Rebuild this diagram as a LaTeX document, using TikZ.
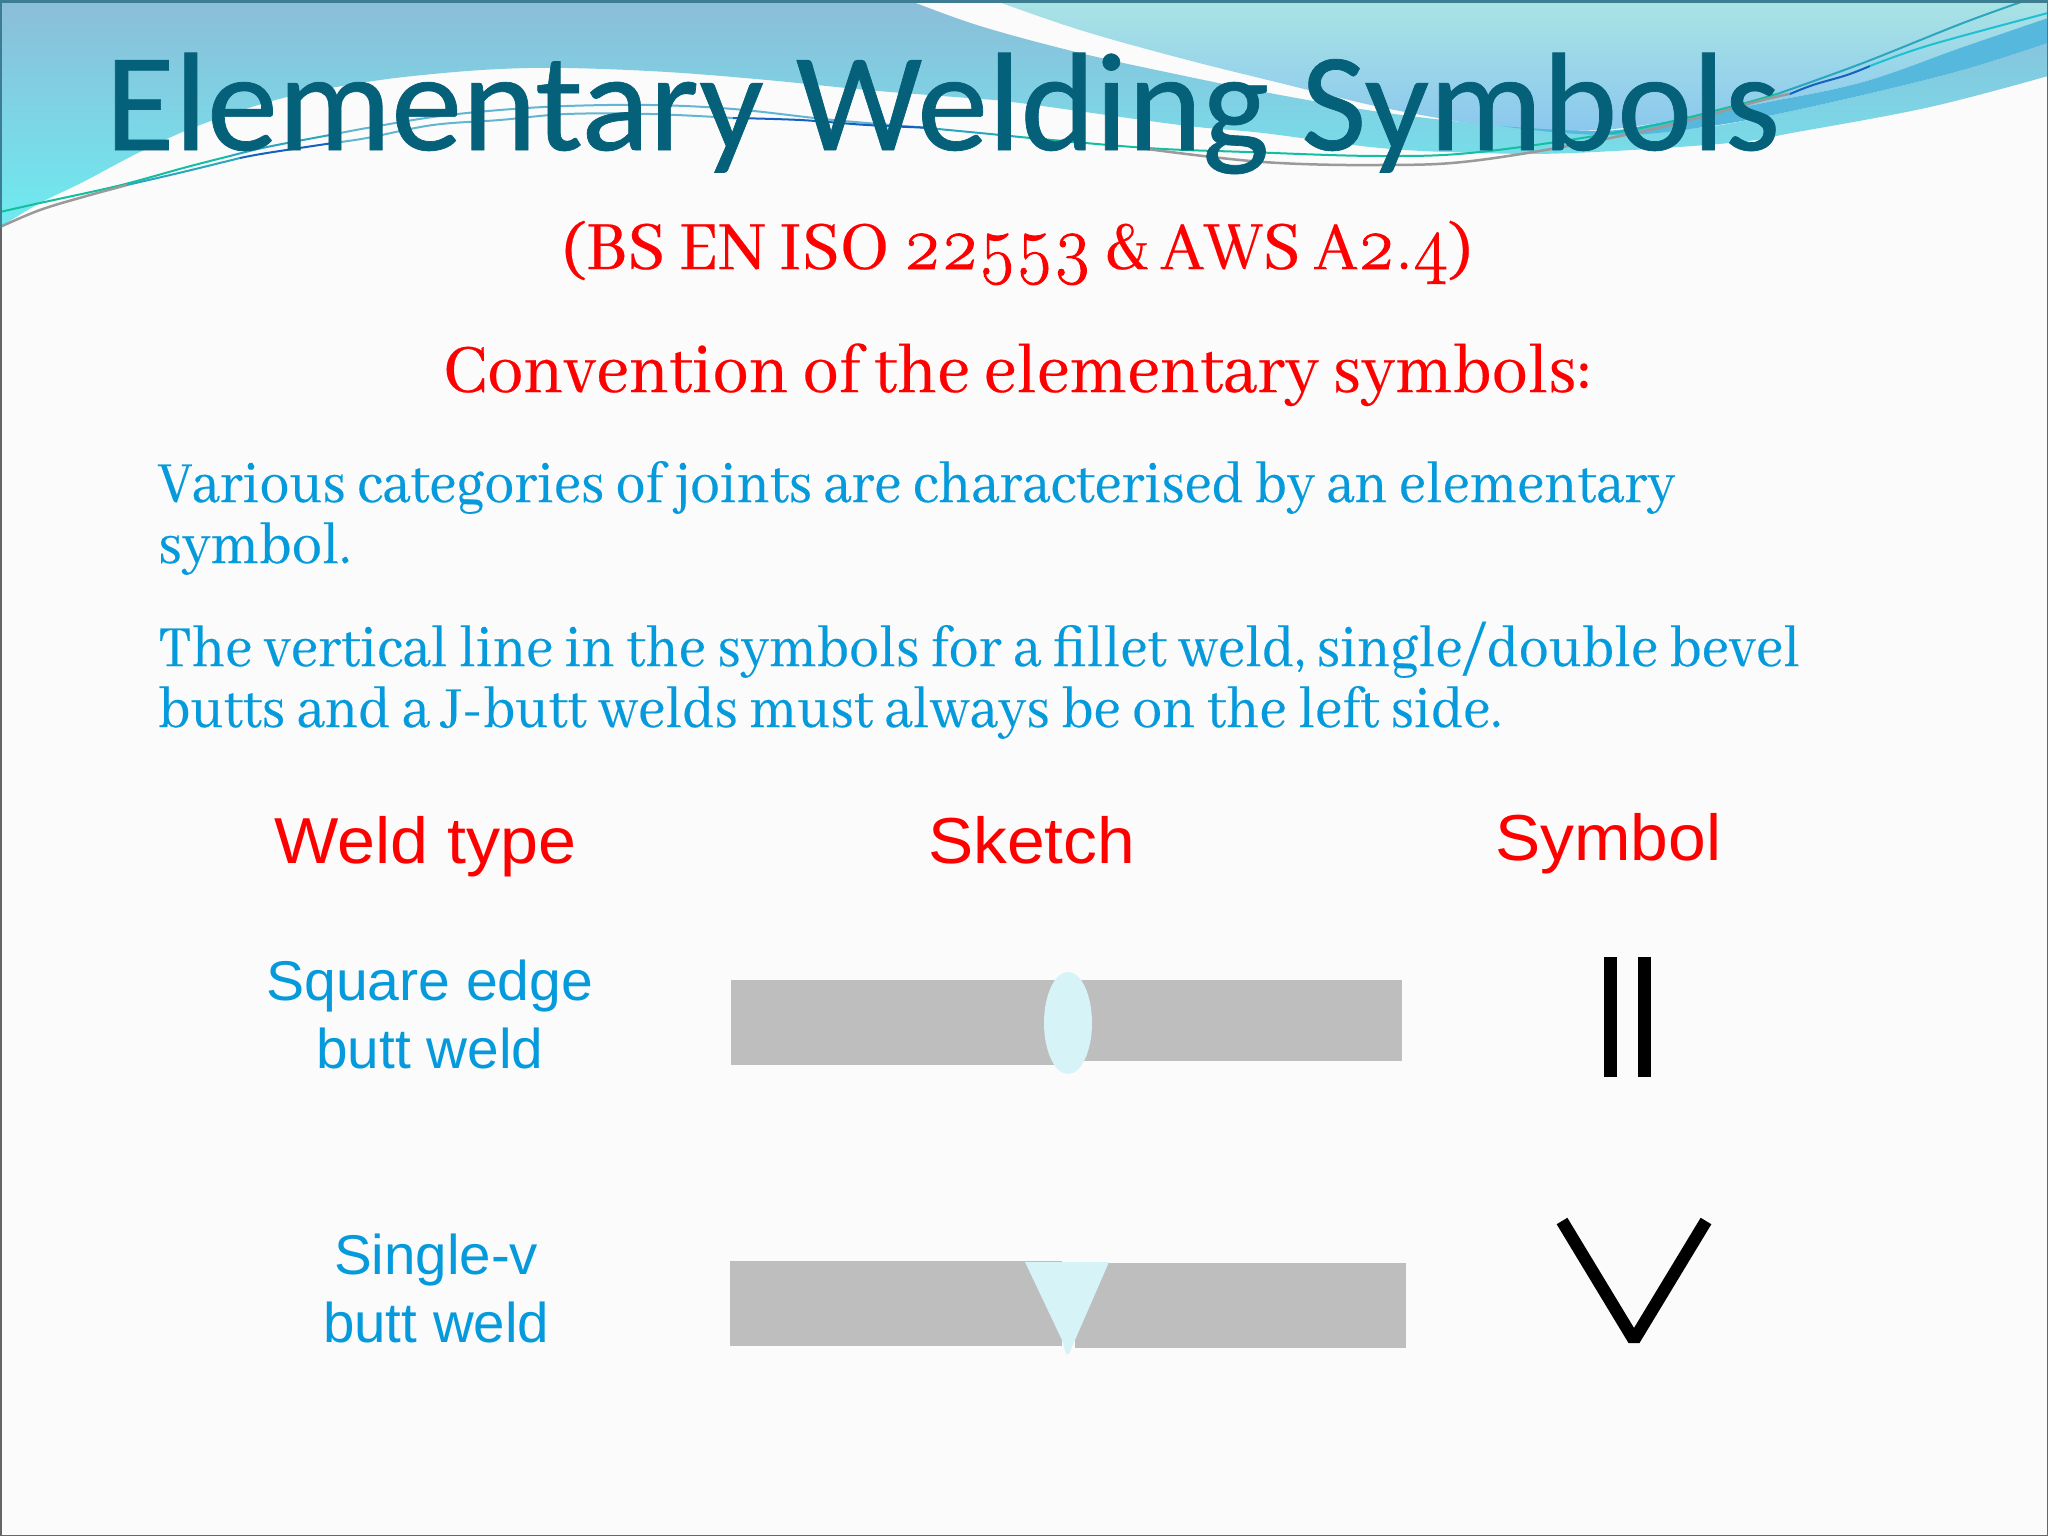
\documentclass[tikz,border=0pt]{standalone}
\usepackage{fontspec}
\usepackage{graphicx}
\setmainfont{Abhaya Libre}
\newfontfamily\serifheavy[RawFeature={embolden=0.3}]{Abhaya Libre}
\newfontfamily\osf[Numbers=OldStyle,RawFeature={embolden=1.2}]{Latin Modern Roman}
\newfontfamily\titlefont[RawFeature={embolden=0.5}]{Carlito}
\newfontfamily\labelfont{Liberation Sans}
\newcommand{\fitw}[2]{\resizebox{#1}{\height}{#2}}
\definecolor{titleC}{HTML}{05607A}
\definecolor{bodyC}{HTML}{059ADB}
\definecolor{pageC}{HTML}{FBFBFB}
\definecolor{plateC}{HTML}{BEBEBE}
\definecolor{beadC}{HTML}{D6F3F8}
\definecolor{bandDark}{HTML}{55B8DC}
\definecolor{greenL}{HTML}{12BFA0}
\definecolor{paleL}{HTML}{62B6D2}
\definecolor{deepL}{HTML}{1560C0}
\definecolor{greyL}{HTML}{9A9A9A}
\definecolor{tealL}{HTML}{2AA6BE}
\definecolor{paleTop}{HTML}{AAE3E4}
\definecolor{paleLow}{HTML}{8AC8EE}
\definecolor{mainTop}{HTML}{8CBDD9}
\definecolor{mainMid}{HTML}{7AD3E5}
\definecolor{mainLow}{HTML}{6EEBF0}
\definecolor{frameT}{HTML}{3C7D91}
\tikzset{
  x=1pt,y=-1pt,
  titletxt/.style={font=\titlefont\fontsize{140pt}{140pt}\selectfont,text=titleC,anchor=base west,inner sep=0pt},
  headtxt/.style={font=\serifheavy\fontsize{76pt}{76pt}\selectfont,text=red,anchor=base west,inner sep=0pt},
  bodytxt/.style={font=\serifheavy\fontsize{64pt}{64pt}\selectfont,text=bodyC,anchor=base west,inner sep=0pt},
  colhead/.style={font=\labelfont\fontsize{65pt}{65pt}\selectfont,text=red,anchor=base west,inner sep=0pt},
  weldtxt/.style={font=\labelfont\fontsize{56pt}{56pt}\selectfont,text=bodyC,anchor=base west,inner sep=0pt},
  plate/.style={fill=plateC,draw=none},
  bead/.style={fill=beadC,draw=none},
  symline/.style={draw=black,line width=12.5pt,line cap=butt,line join=bevel},
  strandA/.style={line width=2pt},
  strandB/.style={line width=2.5pt},
  wavy/.style={smooth,tension=0.6},
}
\begin{document}
\begin{tikzpicture}
\useasboundingbox (0,0) rectangle (2048,1536);
\fill[pageC] (0,0) rectangle (2048,1536);
% pale wave, upper right
\shade[top color=paleTop,bottom color=paleLow]
  (993,0) -- plot[wavy] coordinates {(993,0) (1080,30) (1180,58) (1280,83) (1380,107) (1480,125) (1530,130) (1600,130) (1663,122) (1763,103) (1863,82) (1963,47) (2048,18)}
  -- (2048,0) -- cycle;
% main wave
\shade[top color=mainTop,middle color=mainMid,bottom color=mainLow]
  (0,0) -- (908,0)
  -- plot[wavy] coordinates {(908,0) (980,26) (1080,53) (1180,75) (1280,95) (1380,112) (1480,124) (1530,128) (1600,133) (1697,128) (1763,117) (1863,95) (1963,70) (2048,43)}
  -- (2048,76)
  -- plot[wavy] coordinates {(2048,76) (1930,107) (1797,132) (1730,143) (1573,153) (1480,153) (1380,148) (1263,133) (1180,125) (1020,103) (967,98) (867,90) (767,80) (667,72) (567,68) (500,69) (433,74) (367,82) (283,98) (200,125) (140,152) (83,182) (40,203) (0,227)}
  -- cycle;
% darker band
\fill[bandDark]
  (1500,126) -- plot[wavy] coordinates {(1500,126) (1600,131) (1663,122) (1763,103) (1863,82) (1963,47) (2048,18)}
  -- (2048,43)
  -- plot[wavy] coordinates {(2048,43) (1963,70) (1863,95) (1763,117) (1697,128) (1630,135) (1563,133) (1500,126)} -- cycle;
% thin strands
\draw[greenL,strandA] plot[wavy] coordinates {(0,212) (40,203) (100,190) (133,182) (187,167) (230,156)};
\draw[tealL,strandA] plot[wavy] coordinates {(230,156) (267,147) (330,135)};
\draw[paleL,strandA] plot[wavy] coordinates {(330,135) (367,128) (433,117) (500,110) (567,106) (650,105) (733,109) (833,120) (917,127)};
\draw[tealL,strandA] plot[wavy] coordinates {(917,127) (980,133) (1020,137)};
\draw[greenL,strandA] plot[wavy] coordinates {(1020,137) (1147,148) (1247,152) (1380,156) (1480,152) (1630,130) (1730,107) (1780,93)};
\draw[tealL,strandA] plot[wavy] coordinates {(1780,93) (1863,63) (1963,23) (2027,0)};
\draw[greyL,strandB] plot[wavy] coordinates {(0,227) (40,210) (83,197) (127,185)};
\draw[tealL,strandA] plot[wavy] coordinates {(127,185) (183,172) (240,158)};
\draw[deepL,strandA] plot[wavy] coordinates {(240,158) (267,153) (333,143)};
\draw[paleL,strandA] plot[wavy] coordinates {(333,143) (367,138) (433,125) (500,120) (567,114) (650,114) (733,118)};
\draw[deepL,strandA] plot[wavy] coordinates {(733,118) (800,120) (867,125) (933,128)};
\draw[greyL,strandB] plot[wavy] coordinates {(1147,149) (1263,162) (1380,165) (1480,160) (1640,132) (1763,100) (1790,94)};
\draw[deepL,strandA] plot[wavy] coordinates {(1790,94) (1813,85) (1847,75) (1870,66)};
\draw[tealL!70!cyan,strandA] plot[wavy] coordinates {(1870,66) (1930,45) (2048,13)};
% frame
\draw[frameT,line width=6pt] (0,0) -- (2048,0);
\draw[frameT,line width=3pt] (0,0) -- (0,228);
\draw[frameT,line width=3pt] (2048,0) -- (2048,76);
\draw[color=black!60,line width=3pt] (0,228) -- (0,1536) -- (2048,1536) -- (2048,76);
% title and text
\node[titletxt] (title) at (105,150) {\fitw{1675pt}{Elementary Welding Symbols}};
\node[headtxt] (sub) at (562,269) {\fitw{910pt}{(BS EN ISO {\osf 22553} \& AWS A{\osf 2.4})}};
\node[headtxt] (conv) at (443,392) {\fitw{1148pt}{Convention of the elementary symbols:}};
\node[bodytxt] (b1) at (158,502) {\fitw{1517pt}{Various categories of joints are characterised by an elementary}};
\node[bodytxt] (b2) at (158,563) {\fitw{193pt}{symbol.}};
\node[bodytxt] (b3) at (158,666) {\fitw{1642pt}{The vertical line in the symbols for a fillet weld, single/double bevel}};
\node[bodytxt] (b4) at (158,727) {\fitw{1344pt}{butts and a J-butt welds must always be on the left side.}};
\node[colhead] (hw) at (274,863) {\fitw{302pt}{Weld type}};
\node[colhead] (hs) at (928,863) {\fitw{207pt}{Sketch}};
\node[colhead] (hy) at (1495,860) {\fitw{226pt}{Symbol}};
\node[weldtxt] (w1) at (266,1000) {\fitw{327pt}{Square edge}};
\node[weldtxt] (w2) at (316,1068) {\fitw{227pt}{butt weld}};
\node[weldtxt] (w3) at (334,1274) {\fitw{204pt}{Single-v}};
\node[weldtxt] (w4) at (323,1342) {\fitw{226pt}{butt weld}};
% sketches
\fill[plate] (731,980) rectangle (1062,1065);
\fill[plate] (1062,980) rectangle (1402,1061);
\fill[bead] (1068,1023) ellipse [x radius=24,y radius=51];
\fill[plate] (730,1261) rectangle (1062,1346);
\fill[plate] (1075,1263) rectangle (1406,1348);
\fill[bead] (1025,1262) -- (1109,1262) -- (1075,1340) -- (1069,1354) -- (1066,1354) -- (1062,1340) -- cycle;
% symbols
\draw[line width=13pt] (1610,957) -- (1610,1077);
\draw[line width=13pt] (1644,957) -- (1644,1077);
\draw[symline] (1562,1221) -- (1634,1340) -- (1706,1221);
\end{tikzpicture}
\end{document}
